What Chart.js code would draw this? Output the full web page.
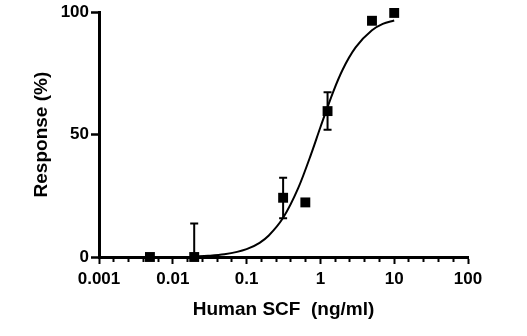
<!DOCTYPE html>
<html>
<head>
<meta charset="utf-8">
<script src="https://cdn.jsdelivr.net/npm/chart.js@4.4.1/dist/chart.umd.min.js"></script>
<style>
  html, body { margin: 0; padding: 0; background: #ffffff; }
  #wrap { width: 527px; height: 336px; position: relative; }
</style>
</head>
<body>
<div id="wrap"><canvas id="c" width="527" height="336"></canvas></div>
<script>
// ---- data ----
const concentrations = [0.0049, 0.0195, 0.3125, 0.625, 1.25, 5, 10];
const responses      = [0.0,    0.0,    24.2,   22.3,  59.6, 96.5, 99.7];
const errLow         = [null,   0.0,    15.8,   null,  52.0, null, null];
const errHigh        = [null,   13.7,   32.4,   null,  67.3, null, null];

const curveX = [0.0195, 0.03, 0.05, 0.1, 0.15, 0.2, 0.3125, 0.5, 0.75, 1, 1.5, 2, 3, 5, 7, 10];
const curveY = [0.3,    0.5,  1.1,  3.2, 5.8,  8.8, 16.0,   28.1, 42.1, 53, 67.7, 76.5, 85.6, 92.6, 95.2, 96.6];

const xDecades = [0.001, 0.01, 0.1, 1, 10, 100];
const xDecadeLabels = ['0.001', '0.01', '0.1', '1', '10', '100'];
const yTicks = [0, 50, 100];

const xTitle = 'Human SCF  (ng/ml)';
const yTitle = 'Response (%)';

// minor ticks: four per decade, evenly spaced in log
const xTickValues = [];
xDecades.forEach((d, i) => {
  xTickValues.push(d);
  if (i < xDecades.length - 1) {
    for (let j = 1; j <= 4; j++) xTickValues.push(d * Math.pow(10, j / 5));
  }
});
const isMajor = v => xDecades.some(d => Math.abs(v / d - 1) < 1e-6);

const errorBarPlugin = {
  id: 'errorBars',
  afterDatasetsDraw(chart) {
    const ctx = chart.ctx;
    const xs = chart.scales.x, ys = chart.scales.y;
    ctx.save();
    ctx.strokeStyle = '#000';
    ctx.lineWidth = 2;
    concentrations.forEach((c, i) => {
      if (errHigh[i] == null) return;
      const px = xs.getPixelForValue(c);
      const pTop = ys.getPixelForValue(errHigh[i]);
      const pBot = ys.getPixelForValue(errLow[i]);
      ctx.beginPath();
      ctx.moveTo(px, pTop); ctx.lineTo(px, pBot);
      ctx.moveTo(px - 4, pTop); ctx.lineTo(px + 4, pTop);
      if (errLow[i] > 0) { ctx.moveTo(px - 4, pBot); ctx.lineTo(px + 4, pBot); }
      ctx.stroke();
    });
    ctx.restore();
  }
};

const FONT = "'Liberation Sans', Arial, sans-serif";

new Chart(document.getElementById('c'), {
  type: 'scatter',
  data: {
    datasets: [
      {
        type: 'line',
        data: curveX.map((x, i) => ({ x: x, y: curveY[i] })),
        borderColor: '#000',
        borderWidth: 2,
        pointRadius: 0,
        cubicInterpolationMode: 'monotone',
        fill: false,
        clip: false,
        order: 2
      },
      {
        data: concentrations.map((x, i) => ({ x: x, y: responses[i] })),
        pointStyle: 'rect',
        pointRadius: 7,
        backgroundColor: '#000',
        borderColor: '#000',
        borderWidth: 0,
        clip: false,
        order: 1
      }
    ]
  },
  options: {
    responsive: false,
    animation: false,
    devicePixelRatio: 1,
    layout: { padding: { left: 0, top: 12, right: 59, bottom: 0 } },
    plugins: { legend: { display: false }, tooltip: { enabled: false } },
    scales: {
      x: {
        type: 'logarithmic',
        min: 0.001,
        max: 100,
        afterBuildTicks: s => { s.ticks = xTickValues.map(v => ({ value: v, major: isMajor(v) })); },
        afterFit: s => { s.height = 79; },
        border: { display: true, color: '#000', width: 3 },
        grid: {
          drawOnChartArea: false,
          drawTicks: true,
          tickLength: 7,
          tickColor: '#000',
          tickWidth: 2,
          tickBorderDash: ctx => (ctx.tick && isMajor(ctx.tick.value)) ? [] : [3, 30]
        },
        ticks: {
          autoSkip: false,
          maxRotation: 0,
          padding: 5,
          color: '#000',
          font: { family: FONT, size: 17, weight: 'bold' },
          callback: (v) => {
            const k = xDecades.findIndex(d => Math.abs(v / d - 1) < 1e-6);
            return k >= 0 ? xDecadeLabels[k] : '';
          }
        },
        title: {
          display: true,
          text: xTitle,
          color: '#000',
          font: { family: FONT, size: 19, weight: 'bold' },
          padding: { top: 0, bottom: 15 }
        }
      },
      y: {
        min: 0,
        max: 100,
        afterBuildTicks: s => { s.ticks = yTicks.map(v => ({ value: v })); },
        afterFit: s => { s.width = 99; },
        border: { display: true, color: '#000', width: 3 },
        grid: {
          drawOnChartArea: false,
          drawTicks: true,
          tickLength: 8,
          tickColor: '#000',
          tickWidth: 2.5
        },
        ticks: {
          padding: 2,
          color: '#000',
          font: { family: FONT, size: 17, weight: 'bold' }
        },
        title: {
          display: true,
          text: yTitle,
          color: '#000',
          font: { family: FONT, size: 19, weight: 'bold' },
          padding: { top: 30, bottom: 0 }
        }
      }
    }
  },
  plugins: [errorBarPlugin]
});
</script>
</body>
</html>
